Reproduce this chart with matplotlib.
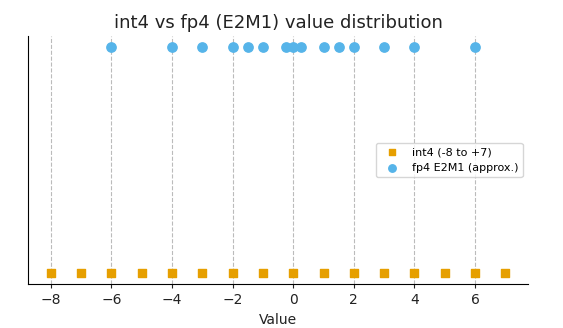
import numpy as np
import matplotlib.pyplot as plt

int4_vals = list(range(-8, 8))
fp4_vals = [-6, -4, -3, -2, -1.5, -1, -0.25, 0, 0.25, 1, 1.5, 2, 3, 4, 6]

fig = plt.figure(figsize=(5.63, 3.28), dpi=100)
ax = fig.add_axes([0.05, 0.134, 0.888, 0.756])

ax.scatter(int4_vals, np.zeros(len(int4_vals)), marker="s", s=36,
           color="#E69F00", label="int4 (-8 to +7)", zorder=3)
ax.scatter(fp4_vals, np.ones(len(fp4_vals)), marker="o", s=45,
           color="#56B4E9", label="fp4 E2M1 (approx.)", zorder=3)

ax.set_ylim(-0.05, 1.05)
ax.set_yticks([])
ax.set_xticks([-8, -6, -4, -2, 0, 2, 4, 6])
ax.grid(axis="x", linestyle="--", color="#bbbbbb", linewidth=0.8)
for s in ["top", "right"]:
    ax.spines[s].set_visible(False)
ax.tick_params(axis="x", labelsize=10, colors="#222222", length=3)
ax.set_xlabel("Value", fontsize=10, color="#222222")
ax.set_title("int4 vs fp4 (E2M1) value distribution", fontsize=13, color="#222222")
ax.legend(loc="center right", fontsize=8, markerscale=0.8)

fig.savefig("out.png", dpi=100)
